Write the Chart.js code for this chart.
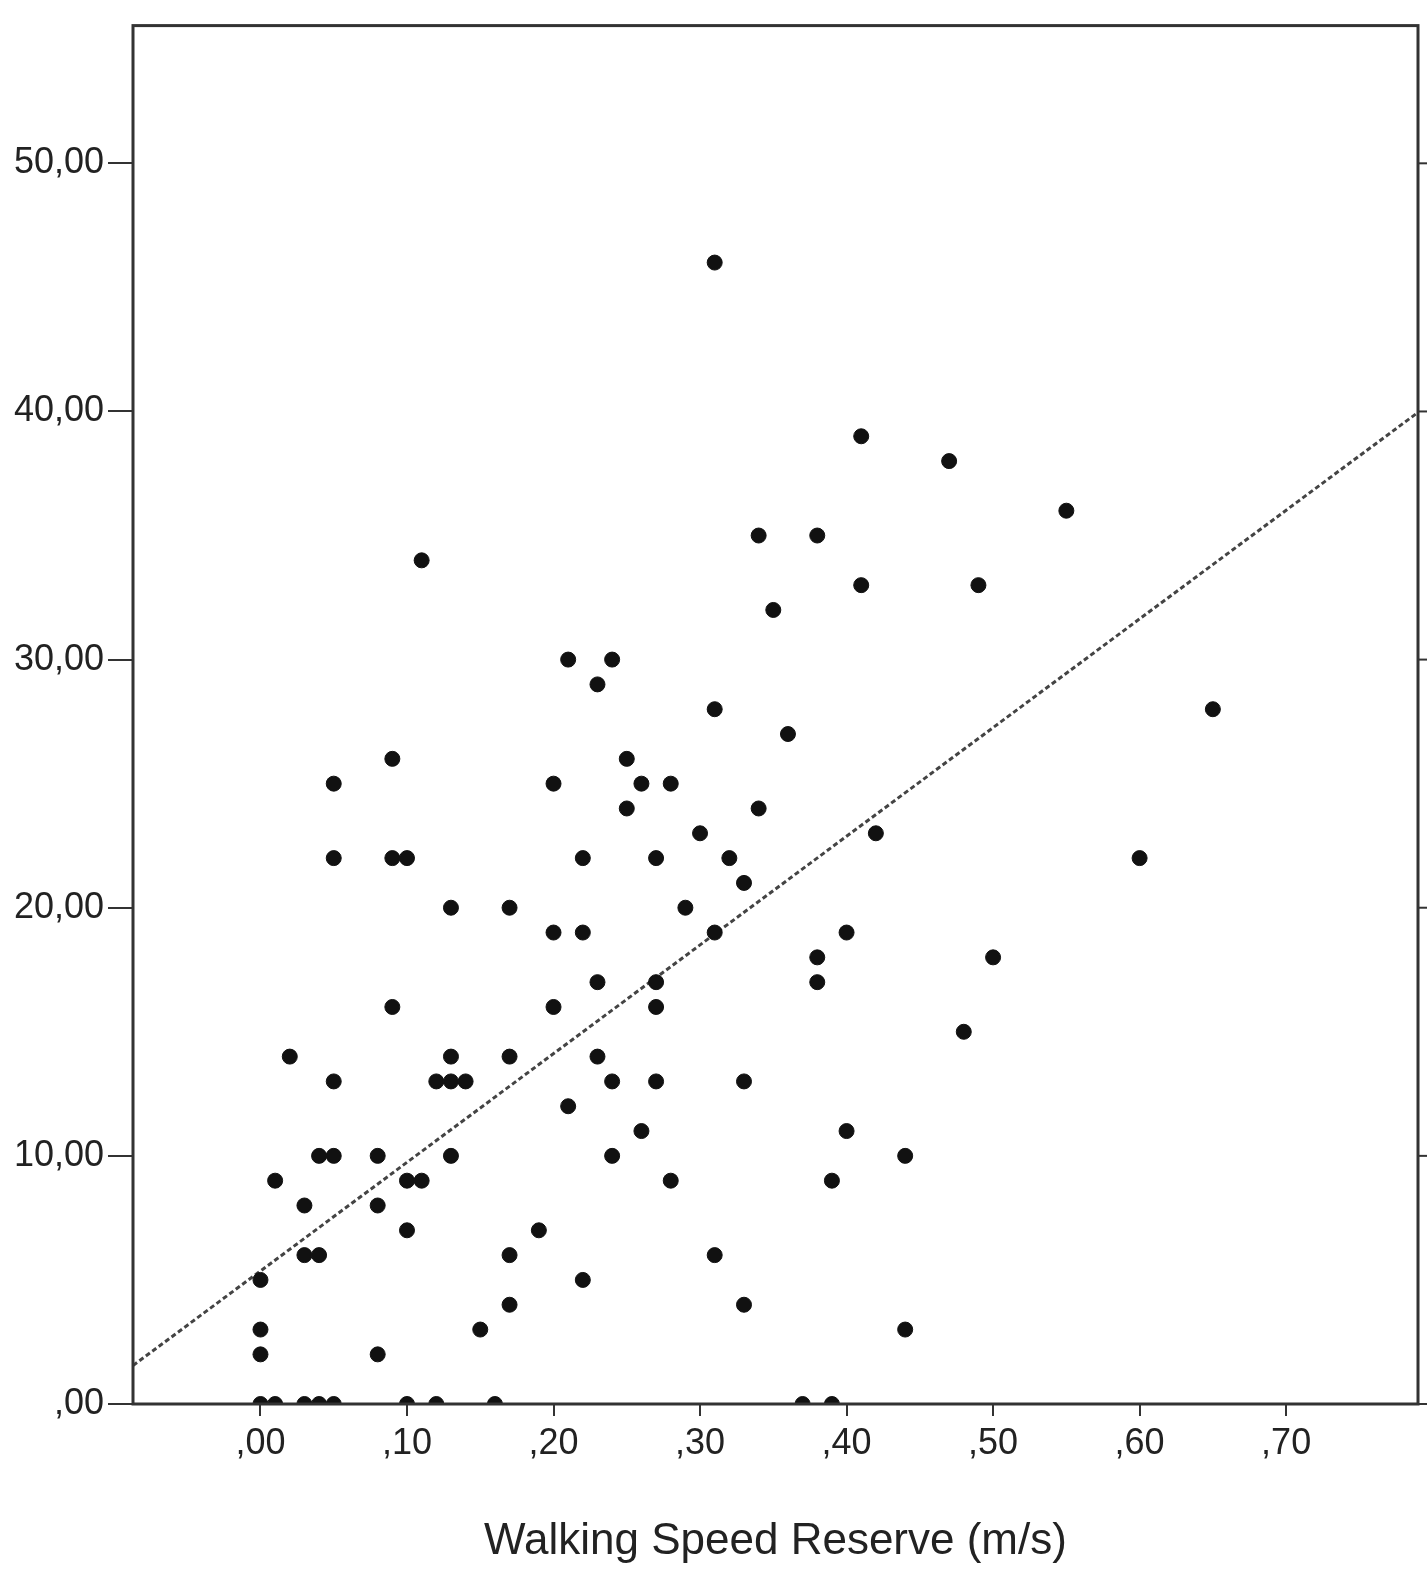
<!DOCTYPE html>
<html><head><meta charset="utf-8">
<script src="https://cdn.jsdelivr.net/npm/chart.js@4/dist/chart.umd.min.js"></script>
<style>html,body{margin:0;padding:0;background:#fff}#w{width:1427px;height:1572px}</style>
</head><body><div id="w"><canvas id="c"></canvas></div>
<script>
const xValues=[0,0.01,0.03,0.04,0.05,0,0,0,0.01,0.02,0.03,0.03,0.04,0.04,0.05,0.05,0.05,0.05,
0.08,0.08,0.08,0.09,0.09,0.10,0.09,0.10,0.11,0.10,0.10,0.12,0.11,0.13,0.12,0.13,0.14,0.13,0.13,0.15,0.16,
0.17,0.17,0.17,0.17,0.19,0.20,0.20,0.20,0.21,0.21,0.22,0.22,0.22,0.23,0.23,0.23,0.24,0.24,0.24,0.25,0.25,
0.26,0.26,0.27,0.27,0.27,0.27,0.28,0.28,0.29,0.30,0.31,0.31,0.31,0.31,0.32,0.33,0.33,0.33,0.34,0.34,0.35,
0.36,0.37,0.38,0.38,0.38,0.39,0.39,0.40,0.40,0.41,0.41,0.42,0.44,0.44,0.47,0.48,0.49,0.50,0.55,0.60,0.65];
const yValues=[0,0,0,0,0,2,3,5,9,14,8,6,6,10,10,13,22,25,
10,8,2,26,22,22,16,9,9,7,0,0,34,20,13,13,13,14,10,3,0,
20,14,6,4,7,25,19,16,30,12,22,19,5,29,17,14,30,13,10,26,24,
25,11,22,17,16,13,25,9,20,23,46,28,19,6,22,21,13,4,35,24,32,
27,0,35,18,17,9,0,19,11,39,33,23,10,3,38,15,33,18,36,22,28];
const yTicks=[0,10,20,30,40,50];
const xTicks=[0,0.1,0.2,0.3,0.4,0.5,0.6,0.7];
const fitIntercept=5.36, fitSlope=43.8;
const xMin=-0.087, xMax=0.79;
const xTitle="Walking Speed Reserve (m/s)";

const pts=xValues.map((x,i)=>({x,y:yValues[i]}));
const fit=[{x:xMin,y:fitIntercept+fitSlope*xMin},{x:xMax,y:fitIntercept+fitSlope*xMax}];
const fmt=v=>{const s=v.toFixed(2).replace('.',',');return s.startsWith('0,')?s.slice(1):s;};
const frame={id:'frame',afterDraw(ch){const a=ch.chartArea,c=ch.ctx;c.save();c.strokeStyle='#333';c.lineWidth=3;
c.strokeRect(a.left,a.top,a.right-a.left,a.bottom-a.top);
const y=ch.scales.y;c.lineWidth=2;yTicks.forEach(t=>{const p=y.getPixelForValue(t);c.beginPath();c.moveTo(a.right,p);c.lineTo(a.right+9,p);c.stroke();});
c.restore();}};
new Chart(document.getElementById('c'),{
 data:{datasets:[
  {type:'scatter',data:pts,backgroundColor:'#111',borderColor:'#111',pointRadius:7.5,pointHoverRadius:7.5},
  {type:'line',data:fit,borderColor:'#444',borderWidth:3,borderDash:[5,3],pointRadius:0,fill:false}
 ]},
 options:{responsive:true,maintainAspectRatio:false,animation:false,
  layout:{padding:{top:5,right:9,left:0,bottom:0}},
  plugins:{legend:{display:false},tooltip:{enabled:false}},
  scales:{
   x:{type:'linear',min:xMin,max:xMax,
    afterBuildTicks:s=>{s.ticks=xTicks.map(v=>({value:v}));},
    afterFit:s=>{s.height=168;},
    grid:{drawOnChartArea:false,tickLength:12,tickColor:'#333',lineWidth:2},border:{display:false},
    ticks:{color:'#222',font:{family:'Liberation Sans, Arial',size:36},callback:v=>fmt(v),maxRotation:0,padding:6},
    title:{display:true,text:xTitle,color:'#222',font:{family:'Liberation Sans, Arial',size:44},padding:{top:28}}},
   y:{type:'linear',min:0,max:55.55,
    afterBuildTicks:s=>{s.ticks=yTicks.map(v=>({value:v}));},
    afterFit:s=>{s.width=133;},
    grid:{drawOnChartArea:false,tickLength:25,tickColor:'#333',lineWidth:2},border:{display:false},
    ticks:{color:'#222',font:{family:'Liberation Sans, Arial',size:36},callback:v=>fmt(v),padding:4}}
  }},
 plugins:[frame]
});
</script></body></html>
